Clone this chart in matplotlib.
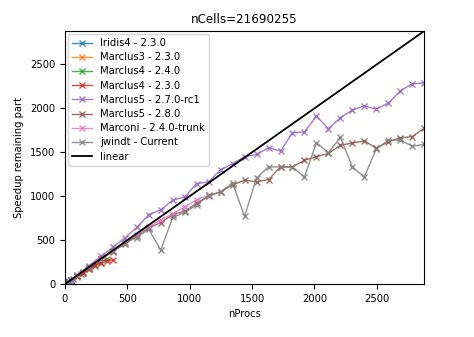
""" Speedup of the remaining part versus number of processes """

import matplotlib
matplotlib.use("Agg")
import matplotlib.pyplot as plt

n_cells = 21690255
n_max = 2880

# (procs, speedup) per machine / version
iridis4_procs = [16, 32, 64, 128]
iridis4_speedup = [16, 31, 60, 115]

marclus3_procs = [12, 24, 48, 96, 144]
marclus3_speedup = [12, 23, 44, 85, 128]

marclus4_240_procs = [24, 48, 96, 144, 192, 240, 288, 336]
marclus4_240_speedup = [22, 45, 88, 132, 172, 208, 242, 282]

marclus4_230_procs = [24, 48, 96, 144, 192, 240, 288, 336, 384]
marclus4_230_speedup = [22, 44, 88, 128, 175, 212, 245, 268, 275]

marclus5_270_procs = [24, 48, 96, 192, 288, 384, 480, 576, 672, 768, 864, 960,
                      1056, 1152, 1248, 1344, 1440, 1536, 1632, 1728, 1824,
                      1920, 2016, 2112, 2208, 2304, 2400, 2496, 2592, 2688,
                      2784, 2880]
marclus5_270_speedup = [26, 52, 105, 210, 315, 420, 525, 645, 790, 845, 955,
                        992, 1144, 1163, 1303, 1370, 1450, 1475, 1551, 1513,
                        1722, 1731, 1912, 1769, 1894, 1980, 2028, 1990, 2060,
                        2197, 2280, 2288]

marclus5_280_procs = [24, 48, 96, 192, 288, 384, 480, 576, 672, 768, 864, 960,
                      1056, 1152, 1248, 1344, 1440, 1536, 1632, 1728, 1824,
                      1920, 2016, 2112, 2208, 2304, 2400, 2496, 2592, 2688,
                      2784, 2880]
marclus5_280_speedup = [23, 46, 95, 188, 280, 370, 455, 548, 640, 700, 790,
                        830, 920, 1000, 1050, 1130, 1182, 1165, 1189, 1333,
                        1333, 1409, 1450, 1488, 1580, 1605, 1629, 1548, 1618,
                        1665, 1678, 1775]

marconi_procs = [24, 48, 96, 192, 288, 384, 480, 576, 672, 768, 864, 960,
                 1056, 1152]
marconi_speedup = [24, 48, 100, 195, 290, 380, 475, 560, 650, 730, 800, 880,
                   960, 1010]

jwindt_procs = [24, 48, 96, 192, 288, 384, 480, 576, 672, 768, 864, 960,
                1056, 1152, 1248, 1344, 1440, 1536, 1632, 1728, 1824, 1920,
                2016, 2112, 2208, 2304, 2400, 2496, 2592, 2688, 2784, 2880]
jwindt_speedup = [24, 48, 95, 190, 285, 380, 470, 530, 625, 385, 760, 815,
                  900, 1011, 1049, 1150, 770, 1210, 1333, 1333, 1333, 1219,
                  1610, 1495, 1670, 1333, 1219, 1542, 1636, 1640, 1568, 1590]

series = [
    (iridis4_procs, iridis4_speedup, "Iridis4 - 2.3.0"),
    (marclus3_procs, marclus3_speedup, "Marclus3 - 2.3.0"),
    (marclus4_240_procs, marclus4_240_speedup, "Marclus4 - 2.4.0"),
    (marclus4_230_procs, marclus4_230_speedup, "Marclus4 - 2.3.0"),
    (marclus5_270_procs, marclus5_270_speedup, "Marclus5 - 2.7.0-rc1"),
    (marclus5_280_procs, marclus5_280_speedup, "Marclus5 - 2.8.0"),
    (marconi_procs, marconi_speedup, "Marconi - 2.4.0-trunk"),
    (jwindt_procs, jwindt_speedup, "jwindt - Current"),
]

plt.rcParams['font.size'] = 7.2
fig = plt.figure(figsize=(4.74, 3.37), dpi=100)
ax = fig.add_axes([0.137, 0.157, 0.758, 0.751])

for i, (x, y, label) in enumerate(series):
    ax.plot(x, y, ls='-', marker='x', color='C{0:d}'.format(i),
            lw=1.0, ms=4.3, alpha=0.85, label=label)
ax.plot([0, n_max], [0, n_max], ls='-', color='k', lw=1.3, label="linear")

ax.set_xlim(0, n_max)
ax.set_ylim(0, n_max)
ax.set_xticks([0, 500, 1000, 1500, 2000, 2500])
ax.set_yticks([0, 500, 1000, 1500, 2000, 2500])
ax.legend(loc=2, fontsize=7.2, labelspacing=0.42, borderaxespad=0.3)
ax.set_title("nCells={0:d}".format(n_cells), fontsize=8.6)
ax.set_xlabel("nProcs")
ax.set_ylabel("Speedup remaining part")
fig.savefig("out.png", dpi=100)
